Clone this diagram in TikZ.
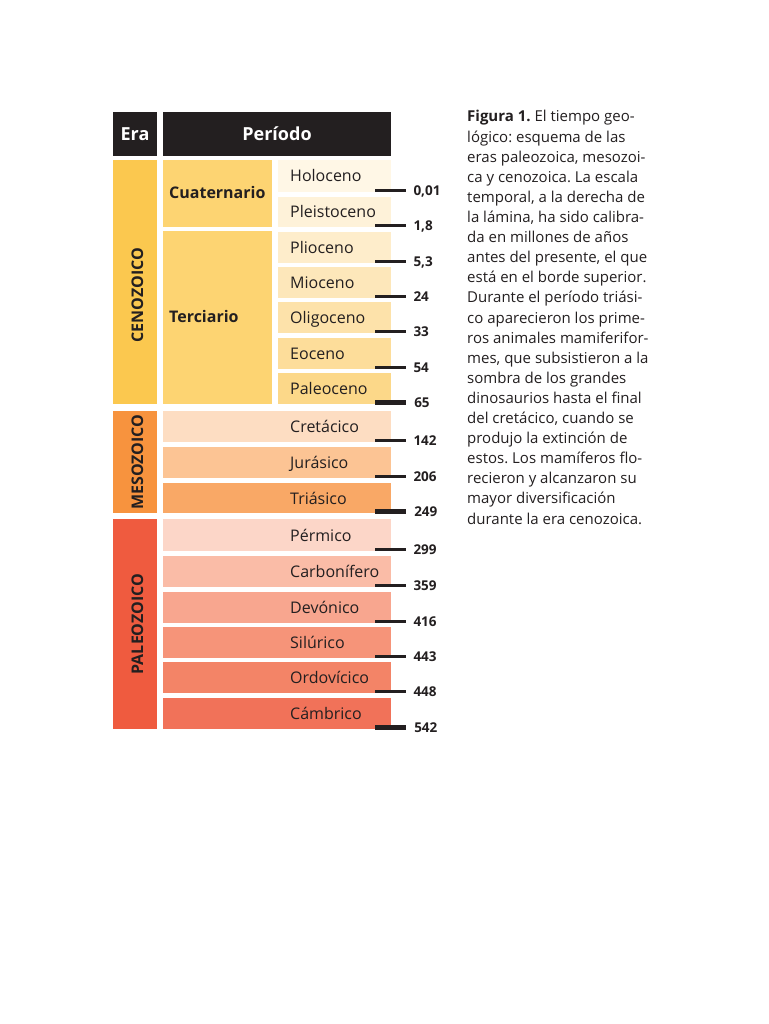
\documentclass[tikz,border=0pt]{standalone}
\usepackage{fontspec}
\setmainfont{Open Sans}
\frenchspacing
\definecolor{ink}{HTML}{231F20}
\definecolor{hdr}{HTML}{231F20}
\definecolor{cEraC}{HTML}{FBC84F}
\definecolor{cSub}{HTML}{FDD472}
\definecolor{cHolo}{HTML}{FFF7E6}
\definecolor{cPleis}{HTML}{FEF2D9}
\definecolor{cPlio}{HTML}{FEEDCB}
\definecolor{cMio}{HTML}{FDE7BA}
\definecolor{cOligo}{HTML}{FDE2AA}
\definecolor{cEo}{HTML}{FDDD9A}
\definecolor{cPaleo}{HTML}{FCD889}
\definecolor{cEraM}{HTML}{F7933E}
\definecolor{cCret}{HTML}{FDDDC2}
\definecolor{cJur}{HTML}{FCC494}
\definecolor{cTri}{HTML}{F9A866}
\definecolor{cEraP}{HTML}{EF5B3F}
\definecolor{cPerm}{HTML}{FCD6C8}
\definecolor{cCarb}{HTML}{FABCA7}
\definecolor{cDev}{HTML}{F8A68F}
\definecolor{cSil}{HTML}{F69479}
\definecolor{cOrd}{HTML}{F38467}
\definecolor{cCamb}{HTML}{F17259}
\newcommand\prow[8]{%
  \node[cell, fill=#5, minimum width={391-#2}, minimum height={#4-#3}] (#1) at (#2,#3) {};
  \node[per] (#1t) at (290,{(#3+#4)/2+6}) {#6};
  \draw[#8] ([xshift=-16pt,yshift=1.5pt]#1.south east) -- ++(31,0)
     node[num] (#1n) {#7};
}
\begin{document}
\begin{tikzpicture}[x=1pt,y=-1pt,
  cell/.style={inner sep=0pt, outer sep=0pt, anchor=north west, draw=none},
  per/.style={font=\fontsize{16}{18}\selectfont, text=ink, anchor=base west, inner sep=0pt},
  grp/.style={font=\bfseries\fontsize{16}{18}\selectfont, text=ink, anchor=base west, inner sep=0pt},
  era/.style={font=\bfseries\fontsize{16}{18}\selectfont, text=ink, rotate=90, inner sep=0pt},
  head/.style={font=\bfseries\fontsize{18}{20}\selectfont, text=white, inner sep=0pt},
  num/.style={font=\bfseries\fontsize{13.5}{16}\selectfont, text=ink, anchor=base west, xshift=6pt, yshift=-5pt, inner sep=0pt},
  tickthin/.style={draw=ink, line width=3pt},
  tickthick/.style={draw=ink, line width=4.5pt},
  capline/.style={font=\fontsize{15}{18}\selectfont, text=ink, anchor=base west, inner sep=0pt}
]
\useasboundingbox (0,0) rectangle (768,1024);
\fill[white] (0,0) rectangle (768,1024);

% headers
\node[cell, fill=hdr, minimum width=44, minimum height=44] (hera) at (113,112) {};
\node[head] (heratxt) at (135,134) {Era};
\node[cell, fill=hdr, minimum width=228, minimum height=44] (hper) at (163,112) {};
\node[head] (hpertxt) at (277,134) {Período};

% eras
\node[cell, fill=cEraC, minimum width=44, minimum height=244] (ceno) at (113,160) {};
\node[era] (cenot) at (137.5,295) {CENOZOICO};
\node[cell, fill=cEraM, minimum width=44, minimum height=102] (meso) at (113,411) {};
\node[era] (mesot) at (137.5,462) {MESOZOICO};
\node[cell, fill=cEraP, minimum width=44, minimum height=210] (paleoz) at (113,519) {};
\node[era] (paleozt) at (137.5,624) {PALEOZOICO};

% Cenozoic sub-periods
\node[cell, fill=cSub, minimum width=109, minimum height=67] (cuat) at (163,160) {};
\node[grp] (cuatt) at (169,199) {Cuaternario};
\node[cell, fill=cSub, minimum width=109, minimum height=173] (terc) at (163,231) {};
\node[grp] (terct) at (169,322.5) {Terciario};

\prow{holo}{278}{160}{192}{cHolo}{Holoceno}{0,01}{tickthin}
\prow{pleis}{278}{197}{227}{cPleis}{Pleistoceno}{1,8}{tickthin}
\prow{plio}{278}{232}{263}{cPlio}{Plioceno}{5,3}{tickthin}
\prow{mio}{278}{267}{298}{cMio}{Mioceno}{24}{tickthin}
\prow{oligo}{278}{302}{333}{cOligo}{Oligoceno}{33}{tickthin}
\prow{eo}{278}{338}{369}{cEo}{Eoceno}{54}{tickthin}
\prow{paleoc}{278}{373}{404}{cPaleo}{Paleoceno}{65}{tickthick}

\prow{cret}{163}{411}{442}{cCret}{Cretácico}{142}{tickthin}
\prow{jur}{163}{447}{478}{cJur}{Jurásico}{206}{tickthin}
\prow{tri}{163}{483}{513}{cTri}{Triásico}{249}{tickthick}

\prow{perm}{163}{519}{551}{cPerm}{Pérmico}{299}{tickthin}
\prow{carb}{163}{556}{587}{cCarb}{Carbonífero}{359}{tickthin}
\prow{dev}{163}{592}{623}{cDev}{Devónico}{416}{tickthin}
\prow{sil}{163}{627}{658}{cSil}{Silúrico}{443}{tickthin}
\prow{ord}{163}{662}{693}{cOrd}{Ordovícico}{448}{tickthin}
\prow{camb}{163}{698}{729}{cCamb}{Cámbrico}{542}{tickthick}

% caption
\foreach \t [count=\i] in {
 {\textbf{Figura 1.} El tiempo geo-},
 {lógico: esquema de las},
 {eras paleozoica, mesozoi-},
 {ca y cenozoica. La escala},
 {temporal, a la derecha de},
 {la lámina, ha sido calibra-},
 {da en millones de años},
 {antes del presente, el que},
 {está en el borde superior.},
 {Durante el período triási-},
 {co aparecieron los prime-},
 {ros animales mamiferifor-},
 {mes, que subsistieron a la},
 {sombra de los grandes},
 {dinosaurios hasta el final},
 {del cretácico, cuando se},
 {produjo la extinción de},
 {estos. Los mamíferos flo-},
 {recieron y alcanzaron su},
 {mayor diversificación},
 {durante la era cenozoica.}}
 \node[capline] (cap\i) at (467,{122+20.1*(\i-1)}) {\t};
\end{tikzpicture}
\end{document}
